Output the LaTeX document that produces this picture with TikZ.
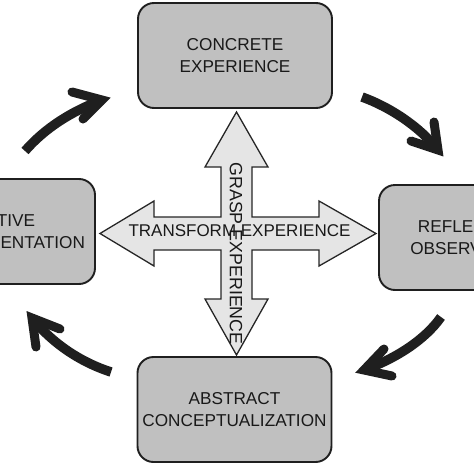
\documentclass[tikz,border=0pt]{standalone}
\usepackage{fontspec}
\setmainfont{Liberation Sans}
\begin{document}
\begin{tikzpicture}[x=1pt,y=-1pt,
  box/.style={draw=black!88, line width=1.9pt, fill=boxgray, rounded corners=16pt,
    minimum width=194pt, minimum height=105pt, inner sep=0pt, align=center,
    text=black!90, font=\fontsize{17.2}{21.5}\selectfont},
  boxtext/.style={inner sep=0pt, align=center, text=black!90, font=\fontsize{17.2}{21.5}\selectfont},
  crosslbl/.style={text=black!90, inner sep=0pt},
  cycarrow/.style={line width=9.5pt, draw=black!88, line cap=butt},
  cychead/.style={line width=9pt, draw=black!88, line cap=round, line join=miter}]
\definecolor{boxgray}{RGB}{192,192,192}
\definecolor{crossgray}{RGB}{229,229,229}
\useasboundingbox (0,0) rectangle (474,474);
\clip (0,0) rectangle (474,474);

% boxes
\node[box] (ce) at (235,55.5) {CONCRETE\\EXPERIENCE};
\node[box] (ac) at (234.5,409.5) {ABSTRACT\\CONCEPTUALIZATION};
\node[box] (ro) at (476,237.5) {};
\node[boxtext] (rot) at (471,237.5) {REFLECTIVE\\OBSERVATION};
\node[box] (ae) at (-2,231.5) {};
\node[boxtext] (aet) at (4,231.5) {ACTIVE\\EXPERIMENTATION};

% central cross of double arrows
\draw[draw=black!85, line width=1.3pt, fill=crossgray, line join=miter]
  (236.5,112) -- (268,167) -- (252,167) -- (252,217) -- (319,217) -- (319,201)
  -- (376,233.5) -- (319,266) -- (319,250) -- (252,250) -- (252,299) -- (268,299)
  -- (236.5,355) -- (205,299) -- (221,299) -- (221,250) -- (154,250) -- (154,266)
  -- (100,233.5) -- (154,201) -- (154,217) -- (221,217) -- (221,167) -- (205,167)
  -- cycle;
\node[crosslbl, font=\fontsize{17}{20}\selectfont] (tr) at (239.5,231) {TRANSFORM EXPERIENCE};
\node[crosslbl, rotate=-90, font=\fontsize{17.8}{20}\selectfont] (gr) at (236,253.5) {GRASP EXPERIENCE};

% cycle arrows
\coordinate (a1s) at (25,151);
\coordinate (a1e) at (102,100);
\draw[cycarrow] (a1s) .. controls (45,128) and (72,111) .. (a1e);
\draw[cychead] (72,92) -- (a1e) -- (83,119);

\coordinate (a2s) at (362,97);
\coordinate (a2e) at (438,150);
\draw[cycarrow] (a2s) .. controls (390,107) and (420,127) .. (a2e);
\draw[cychead] (434,122) -- (a2e) -- (411,141);

\coordinate (a3s) at (441,317);
\coordinate (a3e) at (364,370);
\draw[cycarrow] (a3s) .. controls (425,340) and (395,359) .. (a3e);
\draw[cychead] (384,349) -- (a3e) -- (392,376);

\coordinate (a4s) at (111,372);
\coordinate (a4e) at (32,318);
\draw[cycarrow] (a4s) .. controls (80,362) and (52,343) .. (a4e);
\draw[cychead] (36,347) -- (a4e) -- (60,329);
\end{tikzpicture}
\end{document}
